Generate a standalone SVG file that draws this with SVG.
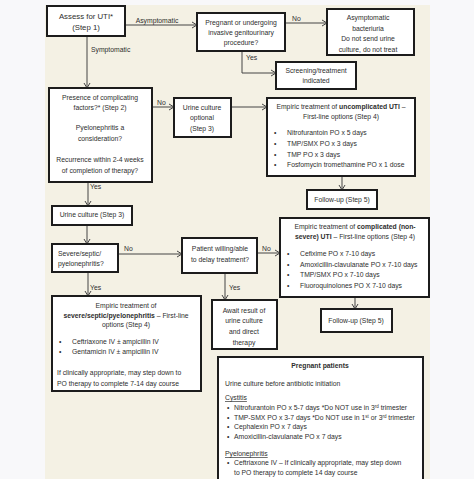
<svg xmlns="http://www.w3.org/2000/svg" width="474" height="479" viewBox="0 0 474 479">
<defs>
<marker id="arr" markerWidth="8" markerHeight="8" refX="6" refY="4" orient="auto" markerUnits="userSpaceOnUse">
<path d="M1,1 L6,4 L1,7" fill="none" stroke="#444" stroke-width="1"/>
</marker>
<style>
.box{fill:#fff;stroke:#1c1c1c;stroke-width:2}
.t{font-family:"Liberation Sans",Arial,sans-serif;font-size:6.8px;fill:#2e2e2e}
.big{font-size:7.8px}
.sup{font-size:4.5px}
.c{text-anchor:middle}
.b{font-weight:bold}
.u{text-decoration:underline}
.con{fill:none;stroke:#444;stroke-width:1;marker-end:url(#arr)}
.lb{font-family:"Liberation Sans",Arial,sans-serif;font-size:6.8px;fill:#2e2e2e}
</style>
</defs>
<rect x="0" y="0" width="474" height="479" fill="#f8f8fa"/>
<rect x="45" y="5" width="385" height="474" fill="#f4f1e4"/>

<g id="connectors">
<path class="con" d="M125,25 H197"/>
<text class="lb c" x="157" y="23">Asymptomatic</text>
<path class="con" d="M285,23 H327"/>
<text class="lb" x="292" y="21">No</text>
<path class="con" d="M242,51 V73 H276"/>
<text class="lb" x="246" y="60">Yes</text>
<path class="con" d="M87,36 V88"/>
<text class="lb" x="91" y="52">Symptomatic</text>
<path class="con" d="M152,107 H174"/>
<text class="lb" x="157" y="105">No</text>
<path class="con" d="M231,107 H267"/>
<path class="con" d="M342,176 V190"/>
<path class="con" d="M88,182 V206"/>
<text class="lb" x="90" y="189">Yes</text>
<path class="con" d="M87,225 V244"/>
<path class="con" d="M118,254 H182"/>
<text class="lb" x="124" y="251">No</text>
<path class="con" d="M257,253 H280"/>
<text class="lb" x="262" y="251">No</text>
<path class="con" d="M225,273 V300"/>
<text class="lb" x="229" y="290">Yes</text>
<path class="con" d="M88,272 V296"/>
<text class="lb" x="90" y="290">Yes</text>
<path class="con" d="M355,297 V309"/>
</g>

<g id="assess">
<rect class="box" x="47" y="6" width="78" height="30"/>
<text class="t c big" x="86" y="19">Assess for UTI*</text>
<text class="t c big" x="86" y="30">(Step 1)</text>
</g>

<g id="pregnant-q">
<rect class="box" x="197" y="13" width="88" height="38"/>
<text class="t c" x="241" y="25">Pregnant or undergoing</text>
<text class="t c" x="241" y="35">invasive genitourinary</text>
<text class="t c" x="241" y="45">procedure?</text>
</g>

<g id="asymptomatic">
<rect class="box" x="327" y="9" width="87" height="46"/>
<text class="t c" x="368" y="20">Asymptomatic</text>
<text class="t c" x="368" y="31">bacteriuria</text>
<text class="t c" x="368" y="41">Do not send urine</text>
<text class="t c" x="368" y="52">culture, do not treat</text>
</g>

<g id="screening">
<rect class="box" x="276" y="62" width="80" height="27"/>
<text class="t c" x="316" y="73">Screening/treatment</text>
<text class="t c" x="316" y="83">indicated</text>
</g>

<g id="presence">
<rect class="box" x="49" y="88" width="103" height="94"/>
<text class="t c" x="100" y="100">Presence of complicating</text>
<text class="t c" x="100" y="110">factors?* (Step 2)</text>
<text class="t c" x="100" y="130">Pyelonephritis a</text>
<text class="t c" x="100" y="141">consideration?</text>
<text class="t c" x="100" y="162">Recurrence within 2-4 weeks</text>
<text class="t c" x="100" y="173">of completion of therapy?</text>
</g>

<g id="urine-optional">
<rect class="box" x="174" y="98" width="57" height="39"/>
<text class="t c" x="202" y="110">Urine culture</text>
<text class="t c" x="202" y="120">optional</text>
<text class="t c" x="202" y="131">(Step 3)</text>
</g>

<g id="uncomplicated">
<rect class="box" x="267" y="98" width="148" height="78"/>
<text class="t c" x="341" y="109">Empiric treatment of <tspan class="b">uncomplicated UTI</tspan> –</text>
<text class="t c" x="341" y="119">First-line options (Step 4)</text>
<text class="t" x="274" y="135">•</text><text class="t" x="287" y="135">Nitrofurantoin PO x 5 days</text>
<text class="t" x="274" y="146">•</text><text class="t" x="287" y="146">TMP/SMX PO x 3 days</text>
<text class="t" x="274" y="157">•</text><text class="t" x="287" y="157">TMP PO x 3 days</text>
<text class="t" x="274" y="167">•</text><text class="t" x="287" y="167">Fosfomycin tromethamine PO x 1 dose</text>
</g>

<g id="followup1">
<rect class="box" x="307" y="190" width="70" height="19"/>
<text class="t c" x="342" y="202">Follow-up (Step 5)</text>
</g>

<g id="urine-culture">
<rect class="box" x="52" y="206" width="80" height="19"/>
<text class="t c" x="92" y="217">Urine culture (Step 3)</text>
</g>

<g id="severe-q">
<rect class="box" x="52" y="244" width="66" height="28"/>
<text class="t" x="58" y="256">Severe/septic/</text>
<text class="t" x="58" y="266">pyelonephritis?</text>
</g>

<g id="patient-willing">
<rect class="box" x="182" y="238" width="75" height="35"/>
<text class="t c" x="220" y="251">Patient willing/able</text>
<text class="t c" x="220" y="262">to delay treatment?</text>
</g>

<g id="complicated">
<rect class="box" x="280" y="218" width="149" height="79"/>
<text class="t c" x="355" y="229">Empiric treatment of <tspan class="b">complicated (non-</tspan></text>
<text class="t c" x="355" y="239"><tspan class="b">severe) UTI</tspan> – First-line options (Step 4)</text>
<text class="t" x="287" y="256">•</text><text class="t" x="300" y="256">Cefixime PO x 7-10 days</text>
<text class="t" x="287" y="267">•</text><text class="t" x="300" y="267">Amoxicillin-clavulanate PO x 7-10 days</text>
<text class="t" x="287" y="277">•</text><text class="t" x="300" y="277">TMP/SMX PO x 7-10 days</text>
<text class="t" x="287" y="288">•</text><text class="t" x="300" y="288">Fluoroquinolones PO X 7-10 days</text>
</g>

<g id="followup2">
<rect class="box" x="321" y="309" width="71" height="23"/>
<text class="t c" x="356" y="323">Follow-up (Step 5)</text>
</g>

<g id="await">
<rect class="box" x="212" y="300" width="65" height="49"/>
<text class="t c" x="244" y="313">Await result of</text>
<text class="t c" x="244" y="323">urine culture</text>
<text class="t c" x="244" y="334">and direct</text>
<text class="t c" x="244" y="345">therapy</text>
</g>

<g id="severe-empiric">
<rect class="box" x="52" y="296" width="149" height="95"/>
<text class="t c" x="126" y="308">Empiric treatment of</text>
<text class="t c" x="126" y="318"><tspan class="b">severe/septic/pyelonephritis</tspan> – First-line</text>
<text class="t c" x="126" y="327">options (Step 4)</text>
<text class="t" x="59" y="344">•</text><text class="t" x="72" y="344">Ceftriaxone IV ± ampicillin IV</text>
<text class="t" x="59" y="354">•</text><text class="t" x="72" y="354">Gentamicin IV ± ampicillin IV</text>
<text class="t" x="57" y="375">If clinically appropriate, may step down to</text>
<text class="t" x="57" y="386">PO therapy to complete 7-14 day course</text>
</g>

<g id="pregnant-patients">
<rect class="box" x="218" y="357" width="205" height="130"/>
<text class="t c b" x="320" y="368">Pregnant patients</text>
<text class="t" x="225" y="386">Urine culture before antibiotic initiation</text>
<text class="t u" x="225" y="400">Cystitis</text>
<text class="t" x="227" y="410">•</text><text class="t" x="234" y="410">Nitrofurantoin PO x 5-7 days *Do NOT use in 3<tspan class="sup" dy="-2.5">rd</tspan><tspan dy="2.5"> trimester</tspan></text>
<text class="t" x="227" y="420">•</text><text class="t" x="234" y="420">TMP-SMX PO x 3-7 days *Do NOT use in 1<tspan class="sup" dy="-2.5">st</tspan><tspan dy="2.5"> or 3</tspan><tspan class="sup" dy="-2.5">rd</tspan><tspan dy="2.5"> trimester</tspan></text>
<text class="t" x="227" y="429">•</text><text class="t" x="234" y="429">Cephalexin PO x 7 days</text>
<text class="t" x="227" y="439">•</text><text class="t" x="234" y="439">Amoxicillin-clavulanate PO x 7 days</text>
<text class="t u" x="225" y="456">Pyelonephritis</text>
<text class="t" x="227" y="465">•</text><text class="t" x="234" y="465">Ceftriaxone IV – If clinically appropriate, may step down</text>
<text class="t" x="234" y="475">to PO therapy to complete 14 day course</text>
</g>
</svg>
